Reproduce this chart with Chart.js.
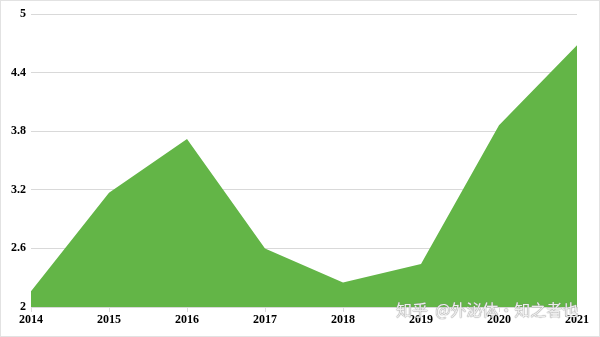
<!DOCTYPE html>
<html>
<head>
<meta charset="utf-8">
<script src="https://cdn.jsdelivr.net/npm/chart.js@4"></script>
<style>
  html, body { margin: 0; padding: 0; background: #fff; }
  #wrap { position: relative; width: 600px; height: 337px; }
  #frame { position: absolute; left: 0; top: 0; width: 598px; height: 335px; border: 1px solid #e2e2e2; pointer-events: none; }
  #mark {
    position: absolute; left: 396px; top: 297px;
    font-family: "Noto Sans CJK SC", sans-serif; font-size: 16px;
    color: rgba(255,255,255,0.85);
    text-shadow: 0 0 1px #888, 0 0 1px #888;
    white-space: nowrap;
  }
</style>
</head>
<body>
<div id="wrap">
  <canvas id="chart" width="600" height="337"></canvas>
  <div id="frame"></div>
  <div id="mark">知乎&nbsp;&nbsp;@外泌体·知之者也</div>
</div>
<script>
const years = ['2014', '2015', '2016', '2017', '2018', '2019', '2020', '2021'];
const values = [2.16, 3.17, 3.72, 2.6, 2.25, 2.44, 3.86, 4.68];
const yTicks = [2, 2.6, 3.2, 3.8, 4.4, 5];

const labelFont = { family: '"Liberation Serif", "Times New Roman", serif', size: 12, weight: 'bold' };

new Chart(document.getElementById('chart'), {
    type: 'line',
    data: {
        labels: years,
        datasets: [{
            data: values,
            borderWidth: 0,
            borderColor: 'rgba(0,0,0,0)',
            backgroundColor: '#63b547',
            fill: 'start',
            tension: 0,
            pointRadius: 0
        }]
    },
    options: {
        responsive: false,
        animation: false,
        layout: { padding: { top: 14, right: 23, left: 0, bottom: 0 } },
        plugins: { legend: { display: false }, tooltip: { enabled: false } },
        scales: {
            x: {
                offset: false,
                grid: { drawOnChartArea: false, drawTicks: true, tickLength: 5, color: '#dcdcdc' },
                border: { display: false },
                ticks: { color: '#000', font: labelFont, padding: 1, maxRotation: 0, autoSkip: false },
                afterFit: s => { s.height = 30; }
            },
            y: {
                min: 2,
                max: 5,
                grid: { color: '#d9d9d9', drawTicks: false },
                border: { display: false },
                ticks: { color: '#000', font: labelFont, padding: 5, callback: v => String(v) },
                afterBuildTicks: s => { s.ticks = yTicks.map(v => ({ value: v })); },
                afterFit: s => { s.width = 31; }
            }
        }
    }
});
</script>
</body>
</html>
